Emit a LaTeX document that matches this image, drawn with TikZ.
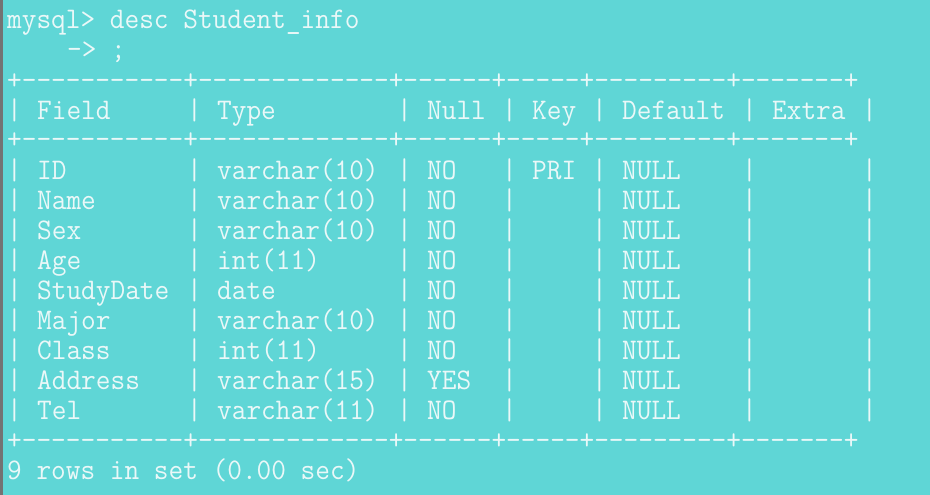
\documentclass[tikz,border=0pt]{standalone}
\definecolor{bg}{HTML}{5FD6D6}
\definecolor{fg}{HTML}{EAF8F8}
\newcommand{\mono}[1]{\scalebox{1}[1.05]{\ttfamily\fontsize{28.5}{28.5}\selectfont #1}}
\tikzset{txt/.style={anchor=base west,inner sep=0pt,text=fg}}
\begin{document}
\begin{tikzpicture}[x=1pt,y=-1pt]
\fill[bg] (0,0) rectangle (930,495);
\fill[black!55] (0,0) rectangle (3,495);
\useasboundingbox (0,0) rectangle (930,495);
\node[txt] (l1) at (7,29) {\mono{mysql> desc Student\_info}};
\node[txt] (l2) at (67,59) {\mono{-> ;}};
\foreach \y [count=\i] in {80,140,440}
  \node[txt] (b\i) at (7,\y+9) {\mono{+-----------+-------------+------+-----+---------+-------+}};
\foreach \y [count=\r] in {110,170,200,230,260,290,320,350,380,410}
  \foreach \c [count=\k] in {0,12,26,33,39,49,57}
    \node[txt] (v\r-\k) at (7+15*\c,\y+9) {\mono{|}};
\newcommand{\row}[7]{%
  \node[txt] at (7+15*2,#1+9) {\mono{#2}};
  \node[txt] at (7+15*14,#1+9) {\mono{#3}};
  \node[txt] at (7+15*28,#1+9) {\mono{#4}};
  \node[txt] at (7+15*35,#1+9) {\mono{#5}};
  \node[txt] at (7+15*41,#1+9) {\mono{#6}};
  \node[txt] at (7+15*51,#1+9) {\mono{#7}};}
\row{110}{Field}{Type}{Null}{Key}{Default}{Extra}
\row{170}{ID}{varchar(10)}{NO}{PRI}{NULL}{}
\row{200}{Name}{varchar(10)}{NO}{}{NULL}{}
\row{230}{Sex}{varchar(10)}{NO}{}{NULL}{}
\row{260}{Age}{int(11)}{NO}{}{NULL}{}
\row{290}{StudyDate}{date}{NO}{}{NULL}{}
\row{320}{Major}{varchar(10)}{NO}{}{NULL}{}
\row{350}{Class}{int(11)}{NO}{}{NULL}{}
\row{380}{Address}{varchar(15)}{YES}{}{NULL}{}
\row{410}{Tel}{varchar(11)}{NO}{}{NULL}{}
\node[txt] (l3) at (7,479) {\mono{9 rows in set (0.00 sec)}};
\end{tikzpicture}
\end{document}
